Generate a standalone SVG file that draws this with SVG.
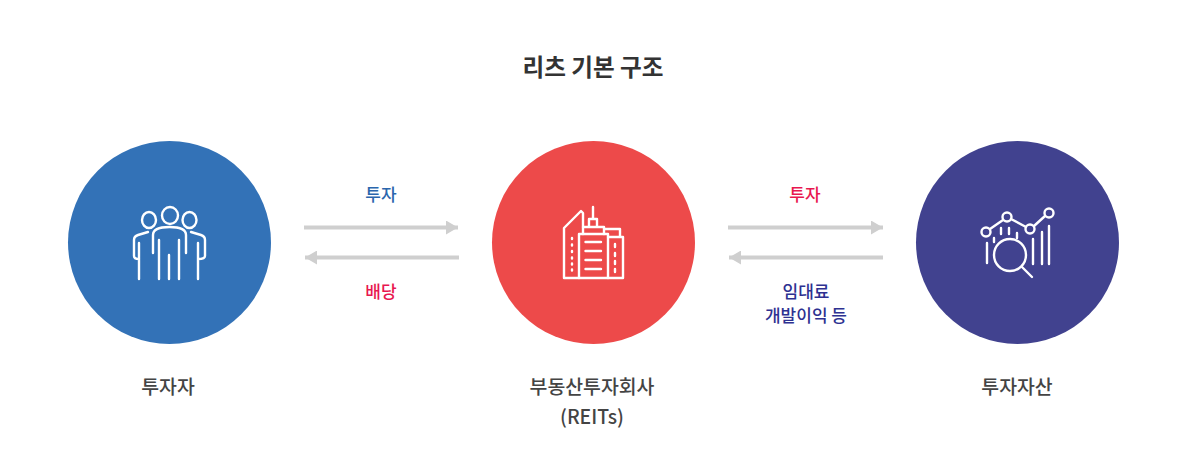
<svg xmlns="http://www.w3.org/2000/svg" width="1177" height="466" viewBox="0 0 1177 466">
<style>
text{font-family:"Noto Sans CJK KR","Noto Sans",sans-serif;text-anchor:middle;font-weight:500}
.t{font-size:23.600px;font-weight:700;fill:#333}
.n{font-size:19.400px;font-weight:500;fill:#444}
.l{font-size:17px}
.i{fill:none;stroke:#fff;stroke-width:2.400;stroke-linecap:round;stroke-linejoin:round}
.c{fill:none;stroke:#cfcfcf;stroke-width:4}
</style>
<defs><marker id="a" markerUnits="userSpaceOnUse" markerWidth="13" markerHeight="14" refX="12" refY="7" orient="auto"><path d="M0 0L12 7L0 14Z" fill="#cfcfcf"/></marker></defs>
<rect width="1177" height="466" fill="#fff"/>
<text class="t" x="593" y="76">리츠 기본 구조</text>
<g id="connectors">
<path class="c" d="M304 227.500H458" marker-end="url(#a)"/>
<path class="c" d="M459 257.500H305" marker-end="url(#a)"/>
<path class="c" d="M728 227.500H883" marker-end="url(#a)"/>
<path class="c" d="M883 257.500H729" marker-end="url(#a)"/>
</g>
<g id="label-invest-1"><text class="l" x="381" y="201" fill="#2a66ad">투자</text></g>
<g id="label-dividend"><text class="l" x="381" y="298" fill="#e8174f">배당</text></g>
<g id="label-invest-2"><text class="l" x="805" y="201" fill="#e8174f">투자</text></g>
<g id="label-rent"><text class="l" x="806" y="298" fill="#2e3191">임대료</text><text class="l" x="806" y="322" fill="#2e3191">개발이익 등</text></g>
<g id="investor">
<circle cx="169.500" cy="242.500" r="101.500" fill="#3372b7"/>
<g class="i">
<ellipse cx="149" cy="220" rx="7" ry="8"/><ellipse cx="170" cy="215.500" rx="8" ry="8.500"/><ellipse cx="189.500" cy="220" rx="7" ry="8"/>
<path d="M148 232L138 235C135 236 134 238 134 240V256C134 258 136 259 139 259M139 243V279"/>
<path d="M191 232L201 235C204 236 205 238 205 240V256C205 258 203 259 198 259M198 243V279"/>
<path d="M153 253V235C153 230 159 227 169.500 227C180 227 186 230 186 235V253"/>
<path d="M159 240V279M169 255V279M179 240V279"/>
</g>
</g>
<g id="reits">
<circle cx="593.500" cy="242.500" r="101.500" fill="#ed4a4a"/>
<g class="i">
<path d="M579 278H564V228L581 211L583 213V227"/>
<path d="M579 234H608V278H579Z"/>
<path d="M583 234V227H604V234M589 227V219H597V227M593 219V207"/>
<path d="M605 229H620V237M608 237H623V278H608"/>
<path d="M585.500 242H601M585.500 251H601M585.500 260H601M585.500 269H601"/>
<path d="M572 238v1M572 244.500v1M572 251v1M572 257.500v1M572 263.500v1M572 269.500v1M615 244v3M615 253v3M615 261v3M615 269v3"/>
</g>
</g>
<g id="assets">
<circle cx="1017.500" cy="242.500" r="101.500" fill="#41428f"/>
<g class="i">
<circle cx="986" cy="232" r="4.500"/><circle cx="1007" cy="217" r="4.500"/><circle cx="1030" cy="229" r="4.500"/><circle cx="1049" cy="213" r="4.500"/>
<path d="M990 229L1003 220M1011 219L1026 227M1034 226L1045 216"/>
<circle cx="1010" cy="255" r="16"/>
<path d="M1022 267L1032 277"/>
<path d="M987 243V263M994 238V242M1001 228V234M1009 228V234M1017 233V238M1033 239V264M1042 232V264M1049 226V264"/>
</g>
</g>
<g id="label-investor"><text class="n" x="168" y="394">투자자</text></g>
<g id="label-reits"><text class="n" x="592" y="394">부동산투자회사</text><text class="n" x="592" y="424">(REITs)</text></g>
<g id="label-assets"><text class="n" x="1017" y="394">투자자산</text></g>
</svg>
